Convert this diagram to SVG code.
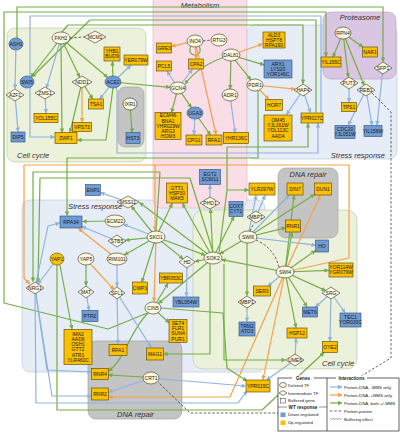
<svg xmlns="http://www.w3.org/2000/svg" width="400" height="432" viewBox="0 0 400 432">
<defs>
<marker id="ag" viewBox="0 0 10 10" refX="9" refY="5" markerWidth="4.5" markerHeight="4.5" orient="auto" markerUnits="userSpaceOnUse"><path d="M0,0L10,5L0,10z" fill="#74ad45"/></marker>
<marker id="ab" viewBox="0 0 10 10" refX="9" refY="5" markerWidth="4.5" markerHeight="4.5" orient="auto" markerUnits="userSpaceOnUse"><path d="M0,0L10,5L0,10z" fill="#8fb3df"/></marker>
<marker id="ao" viewBox="0 0 10 10" refX="9" refY="5" markerWidth="4.5" markerHeight="4.5" orient="auto" markerUnits="userSpaceOnUse"><path d="M0,0L10,5L0,10z" fill="#f5a147"/></marker>
</defs>
<style>
.rg{stroke:#b9c2a6;stroke-width:0.6;fill:#ecf1dc}
.rp{stroke:#d6b6c3;stroke-width:0.6;fill:#f9dde7}
.rb{stroke:#b6c2d3;stroke-width:0.6;fill:#e6edf7}
.ru{stroke:#b39fc1;stroke-width:0.6;fill:#d8c6e2}
.rk{stroke:#9d9d9d;stroke-width:0.6;fill:#c4c4c4}
.rl{font:italic 7.5px "Liberation Sans",Arial,sans-serif;fill:#333}
.g,.b,.o,.gn,.d{fill:none;stroke-width:1.2;stroke-linejoin:round}
.g{stroke:#74ad45;marker-end:url(#ag)}
.gn{stroke:#74ad45}
.b{stroke:#8fb3df;marker-end:url(#ab)}
.o{stroke:#f5a147;marker-end:url(#ao)}
.d{stroke:#222;stroke-width:0.7;stroke-dasharray:2.5,1.8}
.tf{fill:#fdf8dc;stroke:#333;stroke-width:0.6}
.tfb{fill:#6f9ad3;stroke:#2d4b72;stroke-width:0.6}
.tfy{fill:#fbc000;stroke:#5a4a00;stroke-width:0.6}
.gy{fill:#fbc000;stroke:#4f4200;stroke-width:0.6}
.gb{fill:#6f9ad3;stroke:#2d4b72;stroke-width:0.6}
.t{font:5px "Liberation Sans",Arial,sans-serif;text-anchor:middle;fill:#1a1a1a}
.lt{font:4.3px "Liberation Sans",Arial,sans-serif;fill:#1a1a1a}
.lh{font:bold 4.6px "Liberation Sans",Arial,sans-serif;fill:#1a1a1a;text-anchor:middle}
</style>
<rect width="400" height="432" fill="#fff"/>
<g id="regions">
<rect class="rb" x="22" y="200" width="243" height="172" rx="8"/>
<rect class="rp" x="153" y="-6" width="94" height="214" rx="8"/>
<rect class="rb" x="247" y="25" width="150" height="134" rx="8"/>
<rect class="ru" x="323" y="12" width="73" height="67" rx="8"/>
<rect class="rg" x="7" y="28" width="139" height="134" rx="8"/>
<rect class="rk" x="118" y="87" width="26" height="60" rx="7"/>
<rect class="rg" x="193" y="210" width="164" height="159" rx="10"/>
<rect class="rk" x="278" y="168" width="60" height="70" rx="8"/>
<rect class="rk" x="88" y="341" width="94" height="78" rx="8"/>
<text class="rl" x="200" y="8" text-anchor="middle">Metabolism</text>
<text class="rl" x="360" y="20" text-anchor="middle">Proteasome</text>
<text class="rl" x="17" y="158">Cell cycle</text>
<text class="rl" x="385" y="158" text-anchor="end">Stress response</text>
<text class="rl" x="68" y="209">Stress response</text>
<text class="rl" x="308" y="177" text-anchor="middle">DNA repair</text>
<text class="rl" x="117" y="417">DNA repair</text>
<text class="rl" x="322" y="366">Cell cycle</text>
</g>
<g id="connectors">
<path class="g" d="M17,38 L17,7 L383,7 L383,61.5"/>
<path class="g" d="M150,312 L108,329 L4,303 L4,12 L326,12 L326,56.5"/>
<path class="b" d="M321,112.5 L321,16 L30,16 L30,137 L54.5,137"/>
<path class="g" d="M316,112.5 L316,20 L90,20 L32,77"/>
<path class="g" d="M62,32 L68,25 L303,25 L303,83.5"/>
<path class="g" d="M61,38 L30.9,77"/>
<path class="g" d="M61,38 L79.8,77.3"/>
<path class="g" d="M61,44 L62,132.5"/>
<path class="g" d="M61,38 L107.7,77.5"/>
<path class="g" d="M82,82 L92.8,99"/>
<path class="g" d="M82,82 L70,132.5"/>
<path class="g" d="M113,82 L112.5,61.5"/>
<path class="g" d="M113,88 L106,140 L77.5,140"/>
<path class="g" d="M130,104 L132,132.5"/>
<path class="g" d="M113,82 L170,87.3"/>
<path class="gn" d="M191,46 C185,58 205,58 199,46"/>
<path class="g" d="M231,55 L264,64.8"/>
<path class="g" d="M231,55 L230.2,89"/>
<path class="g" d="M231,55 Q200,64 185,84"/>
<path class="g" d="M231,55 L250.9,79.9"/>
<path class="g" d="M178,88 L171.5,112.5"/>
<path class="g" d="M178,88 L191.4,107.7"/>
<path class="g" d="M195,113 L210.5,135"/>
<path class="g" d="M343,33 L333,57"/>
<path class="g" d="M343,33 L362.9,47"/>
<path class="g" d="M343,33 L348.3,77"/>
<path class="g" d="M343,33 L364.1,85.3"/>
<path class="g" d="M219,253 L227,190 L248.5,190"/>
<path class="g" d="M227,190 L227,147 L308,147 L308,123.5"/>
<path class="g" d="M156,231 L160,172 L33,172 L33,281.5"/>
<path class="g" d="M213,252 L190,178 L40,178 L38,282.5"/>
<path class="g" d="M255,85 L258,91 L258,158 L67,158 L67,215.5"/>
<path class="g" d="M156,237 L131.3,206.2"/>
<path class="g" d="M115,221 L82.5,221.5"/>
<path class="g" d="M156,237 L125.6,240.1"/>
<path class="g" d="M156,237 L124.3,254.9"/>
<path class="g" d="M156,237 L141.9,282"/>
<path class="g" d="M156,237 L183.2,258.9"/>
<path class="g" d="M156,237 L205.1,255.1"/>
<path class="g" d="M213,258 L195,261.5"/>
<path class="g" d="M153,308 L168,283.5"/>
<path class="g" d="M153,308 L169,322.7"/>
<path class="g" d="M213,258 L158.4,303.5"/>
<path class="g" d="M60,265 L72,329"/>
<path class="g" d="M57,265 L57,410 L262,410 L324,352.5"/>
<path class="g" d="M86,265 L86,285.5"/>
<path class="g" d="M148,313 C130,330 125,360 108.5,371"/>
<path class="g" d="M143,377 L108.5,375"/>
<path class="g" d="M161,308 L223,313 L227,368 L247,381"/>
<path class="g" d="M210,264 L210,354 L163.5,354"/>
<path class="g" d="M156,237 L172.2,203.5"/>
<path class="g" d="M213,258 L182.5,203.5"/>
<path class="g" d="M213,258 L139.5,202.5"/>
<path class="g" d="M213,258 L210.5,209"/>
<path class="g" d="M248,237 L219.7,254"/>
<path class="g" d="M285,272 L221.6,259.7"/>
<path class="g" d="M213,258 L234,216.5"/>
<path class="g" d="M248,237 L314.5,194.4"/>
<path class="g" d="M248,237 L285.5,227.8"/>
<path class="g" d="M247,243 L247,295.5"/>
<path class="g" d="M285,272 L292,232.5"/>
<path class="g" d="M285,272 L294,195.5"/>
<path class="g" d="M285,272 L315.5,250.5"/>
<path class="g" d="M285,272 L328.5,270.4"/>
<path class="g" d="M285,272 L325.6,290.6"/>
<path class="g" d="M285,272 L306.9,306.5"/>
<path class="g" d="M285,272 L296,327.5"/>
<path class="g" d="M224,264 L224,360 L285.5,360"/>
<path class="b" d="M16,44 L15,88.5"/>
<path class="b" d="M15,95 L18,131.5"/>
<path class="b" d="M61,38 L46.5,87.9"/>
<path class="b" d="M45,93 L46,113"/>
<path class="b" d="M113,82 L130.8,65.5"/>
<path class="b" d="M113,82 L99.9,99"/>
<path class="b" d="M178,88 L167.2,71.5"/>
<path class="b" d="M178,88 L192.2,69.5"/>
<path class="b" d="M230,95 L235,132.5"/>
<path class="b" d="M195,113 L194,134.5"/>
<path class="b" d="M303,90 L286.6,114.5"/>
<path class="b" d="M303,90 L310.4,112.5"/>
<path class="b" d="M349,83 L349,102"/>
<path class="b" d="M366,90 L348.3,125"/>
<path class="b" d="M366,90 L372,125"/>
<path class="b" d="M383,68 L377,125"/>
<path class="b" d="M113,82 L117,90 L117,153 L318,153 L318,123.5"/>
<path class="b" d="M128,202 L100.5,192.6"/>
<path class="b" d="M156,237 L123.4,224.3"/>
<path class="b" d="M117,241 L82,226.5"/>
<path class="b" d="M57,259 L38,284"/>
<path class="b" d="M35,288 L48,226 L59.5,223"/>
<path class="b" d="M86,292 L89,310.5"/>
<path class="b" d="M117,259 L117,286.5"/>
<path class="b" d="M117,293 L118,344"/>
<path class="b" d="M117,293 L151.3,347.5"/>
<path class="b" d="M35,288 L47,370 L91.5,372"/>
<path class="b" d="M35,288 L52,396 L91.5,396"/>
<path class="b" d="M35,288 L36,403 L238,403 L247,391"/>
<path class="b" d="M151,378 L108.5,392"/>
<path class="b" d="M151,378 L245.5,386"/>
<path class="b" d="M187,262 L186.5,296.5"/>
<path class="b" d="M210,203 L210,185"/>
<path class="b" d="M248,237 L256,195.5"/>
<path class="b" d="M256,217 L265,195.5"/>
<path class="b" d="M248,237 L289,195.5"/>
<path class="b" d="M248,237 L315.5,245.2"/>
<path class="b" d="M247,302 L247,321.5"/>
<path class="b" d="M285,272 L268,286"/>
<path class="b" d="M295,360 L296,338.5"/>
<path class="b" d="M295,360 L266.5,380"/>
<path class="b" d="M331,293 L315.5,307"/>
<path class="b" d="M331,293 L345,312.5"/>
<path class="b" d="M331,293 L330,341"/>
<path class="o" d="M82,82 L82,122"/>
<path class="o" d="M195,41 L171.5,46.3"/>
<path class="o" d="M195,41 L196,58.5"/>
<path class="o" d="M195,41 L216,134.5"/>
<path class="o" d="M231,55 L262.5,44"/>
<path class="o" d="M255,85 L268.8,99.5"/>
<path class="o" d="M255,85 L295.2,89.2"/>
<path class="o" d="M117,259 L78.5,228.5"/>
<path class="o" d="M156,237 L154,301.5"/>
<path class="o" d="M86,259 L113.7,289.4"/>
<path class="o" d="M285,272 L349,258 L349,165 L24,165 L24,278 L29.5,284"/>
<path class="o" d="M155,165 L155,230.5"/>
<path class="o" d="M285,272 L230,397 L108.5,397"/>
<path class="o" d="M285,272 L263,379.5"/>
<path class="o" d="M285,272 L320.3,195.5"/>
<path class="d" d="M70,38 L84,37"/>
<path class="d" d="M203,41 L211,40"/>
<path class="d" d="M250,231 L254,223"/>
<path class="d" d="M256,240 Q274,248 279,267"/>
<path class="d" d="M372,93 L391,112 L391,358 L300,413 L190,413 L158,382"/>
</g>
<g id="n-ASH1"><ellipse class="tfb" cx="16" cy="44" rx="7" ry="6"/><text class="t" x="16" y="45.8">ASH1</text></g>
<g id="n-FKH2"><ellipse class="tf" cx="61" cy="38" rx="9" ry="6"/><text class="t" x="61" y="39.8">FKH2</text></g>
<g id="n-SWI5"><ellipse class="tfb" cx="27" cy="82" rx="7" ry="6"/><text class="t" x="27" y="83.8">SWI5</text></g>
<g id="n-ACE2"><ellipse class="tfb" cx="113" cy="82" rx="8" ry="6"/><text class="t" x="113" y="83.8">ACE2</text></g>
<g id="n-IXR1"><ellipse class="tf" cx="130" cy="104" rx="7" ry="6"/><text class="t" x="130" y="105.8">IXR1</text></g>
<g id="n-INO4"><ellipse class="tf" cx="195" cy="41" rx="8" ry="6"/><text class="t" x="195" y="42.8">INO4</text></g>
<g id="n-RTG3"><ellipse class="tf" cx="219" cy="40" rx="8" ry="6"/><text class="t" x="219" y="41.8">RTG3</text></g>
<g id="n-DAL81"><ellipse class="tf" cx="231" cy="55" rx="9" ry="6"/><text class="t" x="231" y="56.8">DAL81</text></g>
<g id="n-GCN4"><ellipse class="tf" cx="178" cy="88" rx="8" ry="6"/><text class="t" x="178" y="89.8">GCN4</text></g>
<g id="n-ADR1"><ellipse class="tf" cx="230" cy="95" rx="8" ry="6"/><text class="t" x="230" y="96.8">ADR1</text></g>
<g id="n-UGA3"><ellipse class="tfb" cx="195" cy="113" rx="8" ry="6"/><text class="t" x="195" y="114.8">UGA3</text></g>
<g id="n-PDR1"><ellipse class="tf" cx="255" cy="85" rx="8" ry="6"/><text class="t" x="255" y="86.8">PDR1</text></g>
<g id="n-RPN4"><ellipse class="tf" cx="343" cy="33" rx="8" ry="6"/><text class="t" x="343" y="34.8">RPN4</text></g>
<g id="n-ECM22"><ellipse class="tf" cx="115" cy="221" rx="10" ry="6"/><text class="t" x="115" y="222.8">ECM22</text></g>
<g id="n-SKO1"><ellipse class="tf" cx="156" cy="237" rx="9" ry="6"/><text class="t" x="156" y="238.8">SKO1</text></g>
<g id="n-YAP1"><ellipse class="tfy" cx="57" cy="259" rx="7" ry="6"/><text class="t" x="57" y="260.8">YAP1</text></g>
<g id="n-YAP5"><ellipse class="tf" cx="86" cy="259" rx="8" ry="6"/><text class="t" x="86" y="260.8">YAP5</text></g>
<g id="n-RIM101"><ellipse class="tf" cx="117" cy="259" rx="10" ry="6"/><text class="t" x="117" y="260.8">RIM101</text></g>
<g id="n-CIN5"><ellipse class="tf" cx="153" cy="308" rx="8" ry="6"/><text class="t" x="153" y="309.8">CIN5</text></g>
<g id="n-CRT1"><ellipse class="tf" cx="151" cy="378" rx="8" ry="6"/><text class="t" x="151" y="379.8">CRT1</text></g>
<g id="n-SOK2"><ellipse class="tf" cx="213" cy="258" rx="9" ry="6"/><text class="t" x="213" y="259.8">SOK2</text></g>
<g id="n-SWI6"><ellipse class="tf" cx="248" cy="237" rx="9" ry="6"/><text class="t" x="248" y="238.8">SWI6</text></g>
<g id="n-SWI4"><ellipse class="tf" cx="285" cy="272" rx="9" ry="6"/><text class="t" x="285" y="273.8">SWI4</text></g>
<g id="n-MCM1"><polygon class="tf" points="84,37 95,31 106,37 95,43"/><text class="t" x="95" y="38.8">MCM1</text></g>
<g id="n-AZF1"><polygon class="tf" points="6,95 15,89 24,95 15,101"/><text class="t" x="15" y="96.8">AZF1</text></g>
<g id="n-ZMS1"><polygon class="tf" points="35,93 45,87 55,93 45,99"/><text class="t" x="45" y="94.8">ZMS1</text></g>
<g id="n-NDD1"><polygon class="tf" points="72,82 82,76 92,82 82,88"/><text class="t" x="82" y="83.8">NDD1</text></g>
<g id="n-HAP4"><polygon class="tf" points="294,90 303,84 312,90 303,96"/><text class="t" x="303" y="91.8">HAP4</text></g>
<g id="n-SFP1"><polygon class="tf" points="374,68 383,62 392,68 383,74"/><text class="t" x="383" y="69.8">SFP1</text></g>
<g id="n-PUT3"><polygon class="tf" points="340,83 349,77 358,83 349,89"/><text class="t" x="349" y="84.8">PUT3</text></g>
<g id="n-REB1"><polygon class="tf" points="357,90 366,84 375,90 366,96"/><text class="t" x="366" y="91.8">REB1</text></g>
<g id="n-MSS11"><polygon class="tf" points="117,202 128,196 139,202 128,208"/><text class="t" x="128" y="203.8">MSS11</text></g>
<g id="n-STB5"><polygon class="tf" points="108,241 117,235 126,241 117,247"/><text class="t" x="117" y="242.8">STB5</text></g>
<g id="n-NRG1"><polygon class="tf" points="26,288 35,282 44,288 35,294"/><text class="t" x="35" y="289.8">NRG1</text></g>
<g id="n-MAT"><polygon class="tf" points="78,292 86,286 94,292 86,298"/><text class="t" x="86" y="293.8">MAT</text></g>
<g id="n-SFL1"><polygon class="tf" points="109,293 117,287 125,293 117,299"/><text class="t" x="117" y="294.8">SFL1</text></g>
<g id="n-HD"><polygon class="tf" points="179,262 187,256 195,262 187,268"/><text class="t" x="187" y="263.8">HD</text></g>
<g id="n-PHD1"><polygon class="tf" points="200,203 210,197 220,203 210,209"/><text class="t" x="210" y="204.8">PHD1</text></g>
<g id="n-MBP1"><polygon class="tf" points="247,217 256,211 265,217 256,223"/><text class="t" x="256" y="218.8">MBP1</text></g>
<g id="n-MBP1b"><polygon class="tf" points="238,302 247,296 256,302 247,308"/><text class="t" x="247" y="303.8">MBP1</text></g>
<g id="n-SRG"><polygon class="tf" points="322,293 331,287 340,293 331,299"/><text class="t" x="331" y="294.8">SRG</text></g>
<g id="n-UME6"><polygon class="tf" points="286,360 295,354 304,360 295,366"/><text class="t" x="295" y="361.8">UME6</text></g>
<g id="n-DIP5"><rect class="gb" x="11" y="132" width="14" height="10"/><text class="t" x="18" y="138.8">DIP5</text></g>
<g id="n-ZWF1"><rect class="gy" x="55" y="132.5" width="22" height="11"/><text class="t" x="66" y="139.8">ZWF1</text></g>
<g id="n-YOL155C"><rect class="gy" x="34" y="113.5" width="24" height="9"/><text class="t" x="46" y="119.8">YOL155C</text></g>
<g id="n-VPS73"><rect class="gy" x="72.5" y="122.5" width="19" height="9"/><text class="t" x="82" y="128.8">VPS73</text></g>
<g id="n-TSA1"><rect class="gy" x="88.5" y="99" width="15" height="10"/><text class="t" x="96" y="105.8">TSA1</text></g>
<g id="n-YHB1"><rect class="gy" x="104" y="47" width="16" height="14"/><text class="t" x="112" y="53.2">YHB1<tspan x="112" dy="5.2">BUD9</tspan></text></g>
<g id="n-YER079W"><rect class="gy" x="124" y="55" width="24" height="10"/><text class="t" x="136" y="61.8">YER079W</text></g>
<g id="n-HST3"><rect class="gb" x="126" y="132.5" width="14" height="11"/><text class="t" x="133" y="139.8">HST3</text></g>
<g id="n-GRE3"><rect class="gy" x="156.5" y="43" width="15" height="10"/><text class="t" x="164" y="49.8">GRE3</text></g>
<g id="n-PCL5"><rect class="gy" x="156.5" y="61" width="15" height="10"/><text class="t" x="164" y="67.8">PCL5</text></g>
<g id="n-CPA2"><rect class="gy" x="188.5" y="59" width="15" height="10"/><text class="t" x="196" y="65.8">CPA2</text></g>
<g id="n-ECM46"><rect class="gy" x="155" y="112.5" width="26" height="27"/><text class="t" x="168" y="117.4">ECM46<tspan x="168" dy="5.2">BNA1</tspan><tspan x="168" dy="5.2">YHR029W</tspan><tspan x="168" dy="5.2">ARG3</tspan><tspan x="168" dy="5.2">HOM3</tspan></text></g>
<g id="n-CPG1"><rect class="gy" x="186" y="135" width="16" height="10"/><text class="t" x="194" y="141.8">CPG1</text></g>
<g id="n-RFA2"><rect class="gy" x="206" y="135" width="16" height="10"/><text class="t" x="214" y="141.8">RFA2</text></g>
<g id="n-YHR136C"><rect class="gy" x="223.5" y="132.5" width="25" height="11"/><text class="t" x="236" y="139.8">YHR136C</text></g>
<g id="n-ALD3"><rect class="gy" x="263" y="32" width="22" height="16"/><text class="t" x="274" y="36.6">ALD3<tspan x="274" dy="5.2">HSP78</tspan><tspan x="274" dy="5.2">RPA190</tspan></text></g>
<g id="n-ARX1"><rect class="gb" x="264" y="60" width="28" height="18"/><text class="t" x="278" y="65.6">ARX1<tspan x="278" dy="5.2">LYS20</tspan><tspan x="278" dy="5.2">YOR146C</tspan></text></g>
<g id="n-HOR7"><rect class="gy" x="265.5" y="99.5" width="17" height="11"/><text class="t" x="274" y="106.8">HOR7</text></g>
<g id="n-OM45"><rect class="gy" x="264" y="115" width="28" height="26"/><text class="t" x="278" y="122">OM45<tspan x="278" dy="5.2">YJL161W</tspan><tspan x="278" dy="5.2">YDL113C</tspan><tspan x="278" dy="5.2">AAD4</tspan></text></g>
<g id="n-YPR017C"><rect class="gy" x="301" y="113" width="22" height="10"/><text class="t" x="312" y="119.8">YPR017C</text></g>
<g id="n-YIL165C"><rect class="gy" x="321" y="57" width="20" height="10"/><text class="t" x="331" y="63.8">YIL165C</text></g>
<g id="n-NAR1"><rect class="gy" x="362.5" y="47" width="15" height="10"/><text class="t" x="370" y="53.8">NAR1</text></g>
<g id="n-TPS1"><rect class="gy" x="341.5" y="102.5" width="15" height="9"/><text class="t" x="349" y="108.8">TPS1</text></g>
<g id="n-CDC20"><rect class="gb" x="335" y="125.5" width="20" height="13"/><text class="t" x="345" y="131.2">CDC20<tspan x="345" dy="5.2">YJL051W</tspan></text></g>
<g id="n-YIL158W"><rect class="gb" x="364" y="125.5" width="18" height="11"/><text class="t" x="373" y="132.8">YIL158W</text></g>
<g id="n-ENP1"><rect class="gb" x="85.5" y="184.5" width="15" height="11"/><text class="t" x="93" y="191.8">ENP1</text></g>
<g id="n-RPA34"><rect class="gb" x="60" y="216" width="22" height="12"/><text class="t" x="71" y="223.8">RPA34</text></g>
<g id="n-PTR2"><rect class="gb" x="82" y="310.5" width="16" height="11"/><text class="t" x="90" y="317.8">PTR2</text></g>
<g id="n-IMA2"><rect class="gy" x="64" y="329.5" width="28" height="35"/><text class="t" x="78" y="335.8">IMA2<tspan x="78" dy="5.2">AAD6</tspan><tspan x="78" dy="5.2">OSH1</tspan><tspan x="78" dy="5.2">GTT2</tspan><tspan x="78" dy="5.2">ATR1</tspan><tspan x="78" dy="5.2">YLR460C</tspan></text></g>
<g id="n-RFA1"><rect class="gy" x="109" y="344.5" width="18" height="11"/><text class="t" x="118" y="351.8">RFA1</text></g>
<g id="n-RNR4"><rect class="gy" x="91.5" y="368.5" width="17" height="11"/><text class="t" x="100" y="375.8">RNR4</text></g>
<g id="n-RNR2"><rect class="gy" x="91.5" y="388" width="17" height="12"/><text class="t" x="100" y="395.8">RNR2</text></g>
<g id="n-CWP1"><rect class="gy" x="132.5" y="282" width="15" height="12"/><text class="t" x="140" y="289.8">CWP1</text></g>
<g id="n-YBR053C"><rect class="gy" x="159.5" y="273" width="23" height="10"/><text class="t" x="171" y="279.8">YBR053C</text></g>
<g id="n-YBL054W"><rect class="gb" x="173" y="297" width="26" height="10"/><text class="t" x="186" y="303.8">YBL054W</text></g>
<g id="n-SET4"><rect class="gy" x="169" y="319.5" width="18" height="23"/><text class="t" x="178" y="325">SET4<tspan x="178" dy="5.2">FLR1</tspan><tspan x="178" dy="5.2">SUN4</tspan><tspan x="178" dy="5.2">PUR1</tspan></text></g>
<g id="n-MAG1"><rect class="gy" x="146.5" y="348" width="17" height="12"/><text class="t" x="155" y="355.8">MAG1</text></g>
<g id="n-GTT1"><rect class="gy" x="166.5" y="183" width="21" height="20"/><text class="t" x="177" y="189.6">GTT1<tspan x="177" dy="5.2">HSP30</tspan><tspan x="177" dy="5.2">MAK5</tspan></text></g>
<g id="n-EGT2"><rect class="gb" x="199.5" y="169.5" width="21" height="15"/><text class="t" x="210" y="176.2">EGT2<tspan x="210" dy="5.2">SCW11</tspan></text></g>
<g id="n-COX7"><rect class="gb" x="229" y="201.5" width="14" height="15"/><text class="t" x="236" y="208.2">COX7<tspan x="236" dy="5.2">CYT1</tspan></text></g>
<g id="n-YLR297W"><rect class="gy" x="249" y="183" width="26" height="12"/><text class="t" x="262" y="190.8">YLR297W</text></g>
<g id="n-DIN7"><rect class="gy" x="287" y="183" width="16" height="12"/><text class="t" x="295" y="190.8">DIN7</text></g>
<g id="n-DUN1"><rect class="gy" x="314.5" y="183" width="17" height="12"/><text class="t" x="323" y="190.8">DUN1</text></g>
<g id="n-RNR1"><rect class="gy" x="285.5" y="220" width="15" height="12"/><text class="t" x="293" y="227.8">RNR1</text></g>
<g id="n-HO"><rect class="gb" x="315.5" y="240" width="13" height="12"/><text class="t" x="322" y="247.8">HO</text></g>
<g id="n-YOR114W"><rect class="gy" x="329" y="263" width="24" height="14"/><text class="t" x="341" y="269.2">YOR114W<tspan x="341" dy="5.2">YGR079W</tspan></text></g>
<g id="n-SER3"><rect class="gy" x="253.5" y="286" width="17" height="10"/><text class="t" x="262" y="292.8">SER3</text></g>
<g id="n-TRM2"><rect class="gb" x="239" y="322" width="16" height="14"/><text class="t" x="247" y="328.2">TRM2<tspan x="247" dy="5.2">ATO3</tspan></text></g>
<g id="n-MET6"><rect class="gb" x="302.5" y="307" width="15" height="10"/><text class="t" x="310" y="313.8">MET6</text></g>
<g id="n-HSP12"><rect class="gy" x="287" y="328" width="20" height="10"/><text class="t" x="297" y="334.8">HSP12</text></g>
<g id="n-TEC1"><rect class="gb" x="340" y="313" width="21" height="14"/><text class="t" x="350.5" y="319.2">TEC1<tspan x="350.5" dy="5.2">YOR030C</tspan></text></g>
<g id="n-OYE2"><rect class="gy" x="322.5" y="341.5" width="15" height="11"/><text class="t" x="330" y="348.8">OYE2</text></g>
<g id="n-YPR015C"><rect class="gy" x="246" y="380" width="24" height="12"/><text class="t" x="258" y="387.8">YPR015C</text></g>
<g id="legend">
<rect x="278" y="378" width="121" height="53" fill="#fff" stroke="#222" stroke-width="0.7"/>
<line x1="327" y1="378" x2="327" y2="431" stroke="#222" stroke-width="0.7"/>
<rect x="292" y="375.5" width="22" height="5" fill="#fff"/>
<text class="lh" x="303" y="380">Genes</text>
<rect x="336" y="375.5" width="31" height="5" fill="#fff"/>
<text class="lh" x="351.5" y="380">Interactions</text>
<ellipse class="tf" cx="283" cy="385" rx="3.5" ry="2.5"/><text class="lt" x="288" y="386.5">Deleted TF</text>
<polygon class="tf" points="279,393 283,390.5 287,393 283,395.5"/><text class="lt" x="288" y="394.5">Intermediate TF</text>
<rect x="280.5" y="398.5" width="5" height="4.5" fill="#fff" stroke="#333" stroke-width="0.5"/><text class="lt" x="288" y="402.3">Buffered gene</text>
<line x1="278" y1="407" x2="327" y2="407" stroke="#222" stroke-width="0.5"/>
<rect x="287" y="405" width="32" height="4.5" fill="#fff"/>
<text class="lh" x="303" y="409">WT response</text>
<rect x="280.5" y="412.5" width="5" height="4.5" fill="#6f9ad3"/><text class="lt" x="288" y="416.3">Down-regulated</text>
<rect x="280.5" y="420.5" width="5" height="4.5" fill="#fbc000"/><text class="lt" x="288" y="424.3">Up-regulated</text>
<path class="b" d="M330,387 L342,387"/><text class="lt" x="344" y="388.5">Protein-DNA, -MMS only</text>
<path class="o" d="M330,395 L342,395"/><text class="lt" x="344" y="396.5">Protein-DNA, +MMS only</text>
<path class="g" d="M330,403 L342,403"/><text class="lt" x="344" y="404.5">Protein-DNA, both +/-MMS</text>
<path class="d" d="M330,411 L342,411"/><text class="lt" x="344" y="412.5">Protein-protein</text>
<path d="M330,418 l1.5,2 l1.5,-2 l1.5,2 l1.5,-2 l1.5,2 l1.5,-2 l1.5,2 l1.5,-2" fill="none" stroke="#777" stroke-width="0.5"/><text class="lt" x="344" y="420.5">Buffering effect</text>
</g>
</svg>
